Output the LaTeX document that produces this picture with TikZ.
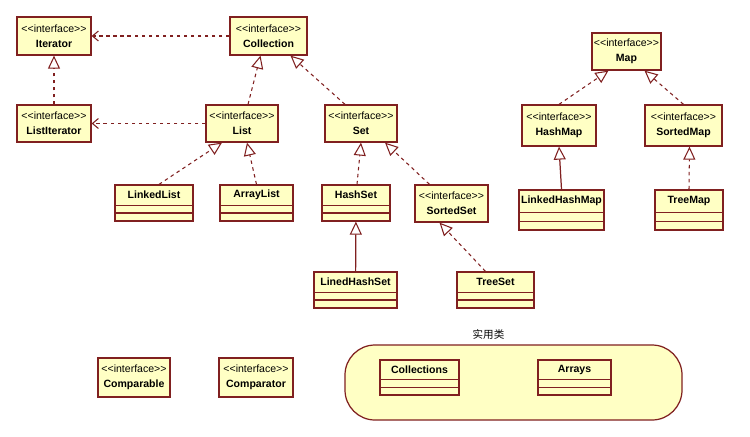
\documentclass[tikz,border=0pt]{standalone}
\usepackage{fontspec}
\setmainfont{Liberation Sans}
\newfontfamily\cjk{Noto Sans CJK SC}
\usetikzlibrary{arrows.meta,calc}
\definecolor{umlfill}{HTML}{FFFFC4}
\definecolor{umlline}{HTML}{802020}
\tikzset{
  x=0.02cm,y=-0.02cm,
  box/.style={draw=umlline,fill=umlfill,line width=0.7pt,inner sep=0pt,align=center,font=\fontsize{6}{7.5}\selectfont},
  real/.style={draw=umlline,line width=0.6pt,dash pattern=on 2pt off 2pt,-{Triangle[length=0.26cm,width=0.24cm,fill=white,line width=0.6pt]}},
  gen/.style={draw=umlline,line width=0.7pt,-{Triangle[length=0.26cm,width=0.24cm,fill=white,line width=0.6pt]}},
  dep/.style={draw=umlline,line width=0.6pt,dash pattern=on 2pt off 2pt,-{Straight Barb[length=0.12cm,width=0.2cm,line width=0.6pt]}},
}
\newcommand{\iface}[6]{% name x1 y1 x2 y2 label
  \node[box,minimum width={(#4-#2)*0.02cm},minimum height={(#5-#3)*0.02cm}] (#1) at ({(#2+#4)/2},{(#3+#5)/2}) {{<}{<}interface{>}{>}\\[1pt]\textbf{#6}};}
\newcommand{\cls}[6]{% name x1 y1 x2 y2 label
  \node[box,minimum width={(#4-#2)*0.02cm},minimum height={(#5-#3)*0.02cm}] (#1) at ({(#2+#4)/2},{(#3+#5)/2}) {};
  \node[font=\fontsize{6}{7.5}\selectfont\bfseries] (#1-t) at ({(#2+#4)/2},{#3+(#5-#3)*0.28}) {#6};
  \draw[umlline,line width=0.7pt] (#2,{#5-(#5-#3)*0.44}) -- (#4,{#5-(#5-#3)*0.44});
  \draw[umlline,line width=0.7pt] (#2,{#5-(#5-#3)*0.22}) -- (#4,{#5-(#5-#3)*0.22});}
\begin{document}
\begin{tikzpicture}
\useasboundingbox (0,0) rectangle (750,436);
\fill[white] (0,0) rectangle (750,436);
\iface{Iterator}{17}{17}{91}{55}{Iterator}
\iface{Collection}{230}{17}{307}{55}{Collection}
\iface{ListIterator}{17}{105}{91}{142}{ListIterator}
\iface{List}{206}{105}{278}{142}{List}
\iface{Set}{325}{105}{397}{142}{Set}
\cls{LinkedList}{115}{185}{193}{221}{LinkedList}
\cls{ArrayList}{220}{185}{293}{221}{ArrayList}
\cls{HashSet}{322}{185}{390}{221}{HashSet}
\iface{SortedSet}{415}{185}{488}{222}{SortedSet}
\cls{LinedHashSet}{314}{272}{397}{308}{LinedHashSet}
\cls{TreeSet}{457}{272}{534}{308}{TreeSet}
\iface{Map}{592}{33}{661}{70}{Map}
\iface{HashMap}{522}{105}{596}{146}{HashMap}
\iface{SortedMap}{645}{105}{722}{146}{SortedMap}
\cls{LinkedHashMap}{519}{190}{604}{230}{LinkedHashMap}
\cls{TreeMap}{655}{190}{723}{230}{TreeMap}
\iface{Comparable}{98}{358}{170}{397}{Comparable}
\iface{Comparator}{219}{358}{293}{397}{Comparator}
\node[box,rounded corners=0.6cm,minimum width={337*0.02cm},minimum height={75*0.02cm}] (util) at (513.5,382.5) {};
\node[font=\cjk\fontsize{6}{7}\selectfont,anchor=south] (utiltitle) at ($(util.north)+(-25,1)$) {实用类};
\cls{Collections}{380}{360}{459}{395}{Collections}
\cls{Arrays}{538}{360}{611}{395}{Arrays}

\draw[dep] (Collection) -- (Iterator);
\draw[real] (ListIterator) -- (Iterator);
\draw[dep] (List) -- (ListIterator);
\draw[real] ($(List.north)+(6,0)$) -- ($(Collection.south)+(-8,0)$);
\draw[real] ($(Set.north)+(-16,0)$) -- ($(Collection.south)+(22,0)$);
\draw[real] ($(LinkedList.north)+(5,0)$) -- ($(List.south)+(-20,0)$);
\draw[real] ($(ArrayList.north)+(0,0)$) -- ($(List.south)+(5,0)$);
\draw[real] ($(HashSet.north)+(1,0)$) -- ($(Set.south)+(0,0)$);
\draw[real] ($(SortedSet.north)+(-22,0)$) -- ($(Set.south)+(24,0)$);
\draw[gen] (LinedHashSet) -- (HashSet);
\draw[real] ($(TreeSet.north)+(-10,0)$) -- ($(SortedSet.south)+(-12,0)$);
\draw[real] ($(HashMap.north)+(0,0)$) -- ($(Map.south)+(-18,0)$);
\draw[real] ($(SortedMap.north)+(0,0)$) -- ($(Map.south)+(18,0)$);
\draw[gen] ($(LinkedHashMap.north)+(0,0)$) -- ($(HashMap.south)+(0,0)$);
\draw[real] ($(TreeMap.north)+(0,0)$) -- ($(SortedMap.south)+(6,0)$);
\end{tikzpicture}
\end{document}
